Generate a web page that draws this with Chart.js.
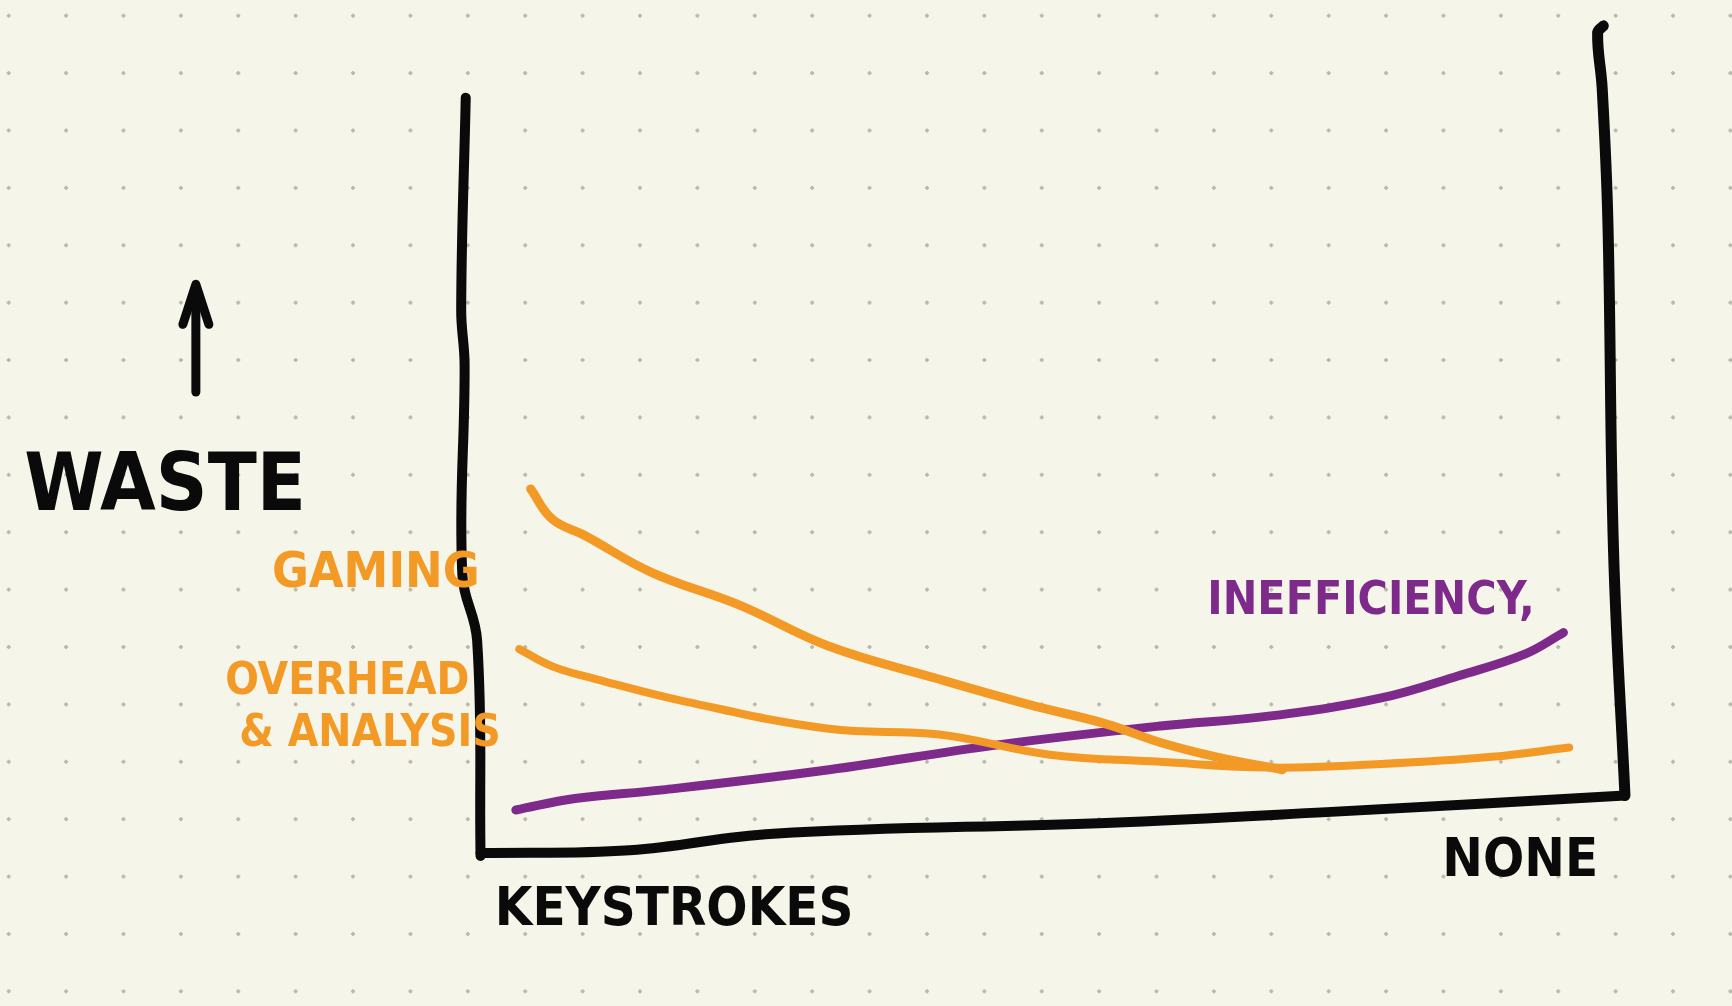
<!DOCTYPE html>
<html>
<head>
<meta charset="utf-8">
<script src="https://cdn.jsdelivr.net/npm/chart.js@4/dist/chart.umd.min.js"></script>
<style>
  body { margin:0; background:#f5f5e9; }
  #wrap { width:1732px; height:1006px; position:relative;
    background-image: radial-gradient(circle, #b9b9ad 1.6px, transparent 2px);
    background-size: 57.4px 57.4px; background-position: -20px -13px; }
</style>
</head>
<body>
<div id="wrap"><canvas id="sketch" width="1732" height="1006"></canvas></div>
<script>
// x: 0 = keystrokes, 100 = none ; y: waste
const gaming_x = [4.4, 6.3, 9.2, 15, 22.8, 30.6, 40.3, 48.1, 54.9, 59.7, 64.6, 70.4];
const gaming_y = [46.5, 42.3, 40, 34.9, 30.3, 24.6, 20, 16.5, 13.8, 11.2, 9.2, 7.4];
const overhead_x = [3.4, 6.3, 10.2, 18, 30.6, 40.3, 50, 59.7, 69.4, 79.1, 88.8, 95.6];
const overhead_y = [24.2, 21.8, 20, 16.9, 13.1, 12.3, 9.5, 8.5, 7.7, 8.2, 9.2, 10.5];
const ineff_x = [3.1, 8.3, 16, 30.6, 45.1, 59.7, 69.4, 79.1, 85.9, 91.7, 95.1];
const ineff_y = [1.8, 3.4, 4.6, 7.4, 10.8, 13.5, 14.9, 17.4, 20.5, 23.5, 26.5];

// hand-drawn frame
const left_axis_x = [-1.3, -1.7, -1.4, -1.6, -0.3, 0];
const left_axis_y = [101, 71.5, 63.8, 34.6, 25.4, -4.6];
const bottom_axis_x = [0, 13.1, 25.7, 54.9, 74.3, 100.5];
const bottom_axis_y = [-4.2, -3.8, -1.5, 0, 1.5, 3.8];
const right_axis_x = [100.5, 99.5, 99.0, 98.5, 98.1, 98.6];
const right_axis_y = [3.8, 37.7, 83.8, 102.3, 110, 111];

const ORANGE = "#f39a26", PURPLE = "#7e2a8b", INK = "#0a0a0a";

function pts(xs, ys){ return xs.map((x, i) => ({x: x, y: ys[i]})); }
function line(xs, ys, color, w){
    return { data: pts(xs, ys), borderColor: color, borderWidth: w, pointRadius: 0,
             tension: 0.4, borderCapStyle: "round", borderJoinStyle: "round", fill: false };
}

const labels = [
    {text:"WASTE", x:-27.7, y:46.5, color:INK, size:80},
    {text:"GAMING", x:-9.2, y:34.6, color:ORANGE, size:50},
    {text:"OVERHEAD", x:-11.7, y:19.5, color:ORANGE, size:44},
    {text:"& ANALYSIS", x:-9.7, y:12.3, color:ORANGE, size:44},
    {text:"INEFFICIENCY,", x:78.2, y:30.8, color:PURPLE, size:46},
    {text:"KEYSTROKES", x:17, y:-12.3, color:INK, size:54},
    {text:"NONE", x:91.3, y:-5.4, color:INK, size:54}
];

const textPlugin = {
    id: "sketchText",
    afterDatasetsDraw(chart){
        const c = chart.ctx, xs = chart.scales.x, ys = chart.scales.y;
        c.save();
        c.textAlign = "center"; c.textBaseline = "middle";
        labels.forEach(l => {
            c.font = "bold " + l.size + "px 'Liberation Sans Narrow','DejaVu Sans Condensed',sans-serif";
            c.fillStyle = l.color;
            c.fillText(l.text, xs.getPixelForValue(l.x), ys.getPixelForValue(l.y));
        });
        // arrow above WASTE
        const ax = xs.getPixelForValue(-25), y0 = ys.getPixelForValue(60), y1 = ys.getPixelForValue(75);
        c.strokeStyle = INK; c.lineWidth = 9; c.lineCap = "round"; c.lineJoin = "round";
        c.beginPath(); c.moveTo(ax, y0); c.lineTo(ax, y1 + 4); c.stroke();
        c.beginPath(); c.moveTo(ax - 13, y1 + 40); c.lineTo(ax, y1); c.lineTo(ax + 13, y1 + 40); c.stroke();
        c.restore();
    }
};

new Chart(document.getElementById("sketch").getContext("2d"), {
    type: "line",
    data: { datasets: [
        line(left_axis_x, left_axis_y, INK, 10),
        line(bottom_axis_x, bottom_axis_y, INK, 10),
        line(right_axis_x, right_axis_y, INK, 11),
        line(gaming_x, gaming_y, ORANGE, 9),
        line(overhead_x, overhead_y, ORANGE, 8),
        line(ineff_x, ineff_y, PURPLE, 9)
    ]},
    options: {
        responsive: false, animation: false,
        layout: { padding: 0 },
        plugins: { legend: {display:false}, tooltip: {enabled:false} },
        scales: {
            x: { type:"linear", min:-42.2, max:109.9, display:false },
            y: { type:"linear", min:-25.5, max:114.6, display:false }
        }
    },
    plugins: [textPlugin]
});
</script>
</body>
</html>
